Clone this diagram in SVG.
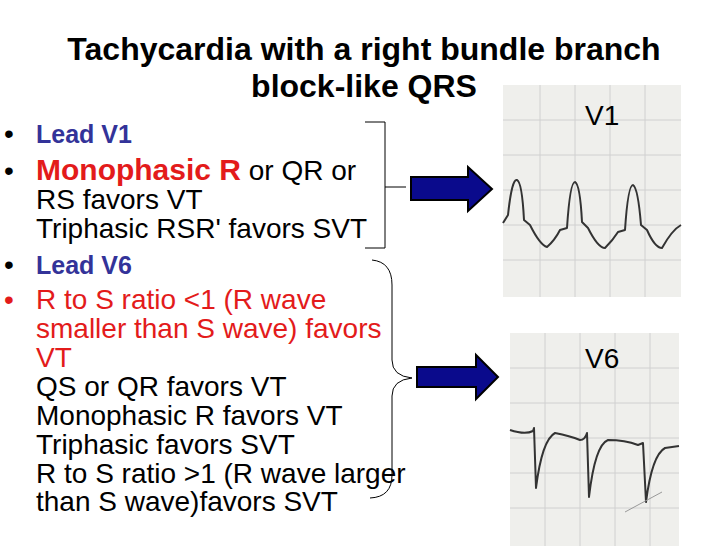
<svg xmlns="http://www.w3.org/2000/svg" width="728" height="546" viewBox="0 0 728 546">
<style>
text{font-family:"Liberation Sans",Arial,sans-serif;font-size:28px;fill:#000}
.t{font-weight:bold;font-size:32px}
.b{fill:#333399;font-weight:bold;font-size:25px}
.r{fill:#e31b1b}
.br{fill:none;stroke:#000;stroke-width:1}
.arr{fill:#0a0a8c;stroke:#000;stroke-width:2}
.ecg{fill:none;stroke:#333;stroke-width:2;stroke-linejoin:round}
.grid{stroke:#d0d0d0;stroke-width:1}
</style>
<rect width="728" height="546" fill="#fff"/>
<g id="title">
<text class="t" x="364" y="60" text-anchor="middle">Tachycardia with a right bundle branch</text>
<text class="t" x="364" y="97" text-anchor="middle">block-like QRS</text>
</g>
<g id="bullets">
<text x="4" y="143" font-size="24">•</text><text class="b" x="36" y="143">Lead V1</text>
<text x="4" y="180" font-size="24">•</text><text x="36" y="180"><tspan class="r" font-weight="bold" font-size="30">Monophasic R</tspan> or QR or</text>
<text x="36" y="209">RS favors VT</text>
<text x="36" y="238">Triphasic RSR' favors SVT</text>
<text x="4" y="274" font-size="24">•</text><text class="b" x="36" y="274">Lead V6</text>
<text x="4" y="309" font-size="24" class="r">•</text><text class="r" x="36" y="309">R to S ratio &lt;1 (R wave</text>
<text class="r" x="36" y="338">smaller than S wave) favors</text>
<text class="r" x="36" y="367">VT</text>
<text x="36" y="396">QS or QR favors VT</text>
<text x="36" y="425">Monophasic R favors VT</text>
<text x="36" y="454">Triphasic favors SVT</text>
<text x="36" y="483">R to S ratio &gt;1 (R wave larger</text>
<text x="36" y="511">than S wave)favors SVT</text>
</g>
<g id="connectors">
<path class="br" d="M365,122 H385 V248 H365 M385,187 H406"/>
<path class="br" d="M372,260 Q392,262 392,285 V360 Q392,376 412,378 Q392,380 392,396 V475 Q392,497 370,498"/>
<path class="arr" d="M411,177 H468 V167 L492,189 L468,211 V200 H411 Z"/>
<path class="arr" d="M417,367 H476 V355 L498,377 L476,399 V387 H417 Z"/>
</g>
<g id="ecg-v1">
<rect x="503" y="85" width="178" height="212" fill="#efefec"/>
<path class="grid" d="M540,85V297M575,85V297M610,85V297M645,85V297M503,120H681M503,155H681M503,190H681M503,225H681M503,260H681"/>
<text x="585" y="125" font-family="Liberation Serif,serif" font-size="16" fill="#333">V1</text>
<path class="ecg" d="M503,223 L508,215 Q512,178 517,180 Q522,182 524,220 L530,225 Q540,245 547,247 Q555,240 560,230 L567,228 Q570,182 575,182 Q580,184 582,222 L588,228 Q598,248 605,248 Q613,240 618,232 L625,230 Q628,185 633,185 Q638,188 641,225 L647,230 Q655,248 662,248 Q672,230 681,225"/>
</g>
<g id="ecg-v6">
<rect x="510" y="333" width="169" height="213" fill="#efefec"/>
<path class="grid" d="M545,333V546M580,333V546M615,333V546M650,333V546M510,368H679M510,403H679M510,438H679M510,473H679M510,508H679"/>
<text x="585" y="368" font-family="Liberation Serif,serif" font-size="16" fill="#333">V6</text>
<path class="ecg" d="M510,430 Q525,435 533,431 L534,428 L536,488 Q542,440 555,433 Q570,436 580,440 Q585,440 587,433 L589,497 Q595,445 608,440 Q625,440 638,445 L643,443 L646,502 Q652,455 665,448 L679,446"/>
<path d="M625,512 L662,492" stroke="#999" stroke-width="1"/>
</g>
</svg>
